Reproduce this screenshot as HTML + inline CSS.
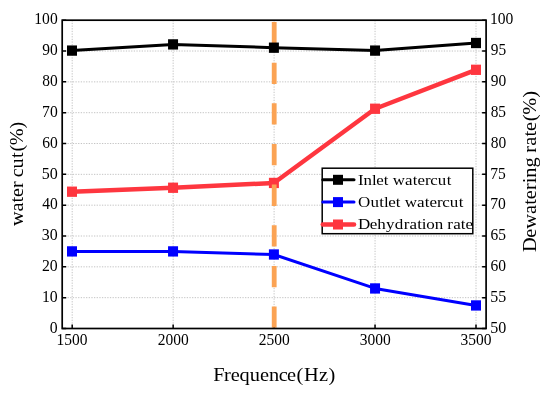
<!DOCTYPE html>
<html><head><meta charset="utf-8"><style>html,body{margin:0;padding:0;background:#fff;width:550px;height:393px;overflow:hidden}svg{display:block}</style></head>
<body><svg width="550" height="393" viewBox="0 0 550 393">
<rect width="550" height="393" fill="#fff"/>
<path d="M72.20 20.20V328.50M173.15 20.20V328.50M274.10 20.20V328.50M375.05 20.20V328.50M476.00 20.20V328.50M62.20 297.67H486.10M62.20 266.84H486.10M62.20 236.01H486.10M62.20 205.18H486.10M62.20 174.35H486.10M62.20 143.52H486.10M62.20 112.69H486.10M62.20 81.86H486.10M62.20 51.03H486.10" stroke="#c4c4c4" stroke-width="1" stroke-dasharray="1.3 1.35" fill="none"/>
<path d="M62.20 328.50h4M486.10 328.50h-4M62.20 297.67h4M486.10 297.67h-4M62.20 266.84h4M486.10 266.84h-4M62.20 236.01h4M486.10 236.01h-4M62.20 205.18h4M486.10 205.18h-4M62.20 174.35h4M486.10 174.35h-4M62.20 143.52h4M486.10 143.52h-4M62.20 112.69h4M486.10 112.69h-4M62.20 81.86h4M486.10 81.86h-4M62.20 51.03h4M486.10 51.03h-4M62.20 20.20h4M486.10 20.20h-4M72.20 328.50v-4M173.15 328.50v-4M274.10 328.50v-4M375.05 328.50v-4M476.00 328.50v-4" stroke="#000" stroke-width="1.5" fill="none"/>
<polyline points="72.00,191.70 173.05,187.75 273.90,182.95 375.05,108.75 476.00,69.80" stroke="#fe363f" stroke-width="4.5" fill="none" stroke-linejoin="round"/>
<rect x="67.00" y="186.55" width="10" height="10.3" fill="#fe363f"/>
<rect x="168.05" y="182.60" width="10" height="10.3" fill="#fe363f"/>
<rect x="268.90" y="177.80" width="10" height="10.3" fill="#fe363f"/>
<rect x="370.05" y="103.60" width="10" height="10.3" fill="#fe363f"/>
<rect x="471.00" y="64.65" width="10" height="10.3" fill="#fe363f"/>
<line x1="274.2" y1="22.0" x2="274.2" y2="328.50" stroke="#fba354" stroke-width="4.8" stroke-dasharray="21.3 19.35"/>
<polyline points="72.00,251.40 173.05,251.40 273.90,254.50 375.05,288.45 476.00,305.45" stroke="#0000ff" stroke-width="3" fill="none" stroke-linejoin="round"/>
<rect x="67.00" y="246.25" width="10" height="10.3" fill="#0000ff"/>
<rect x="168.05" y="246.25" width="10" height="10.3" fill="#0000ff"/>
<rect x="268.90" y="249.35" width="10" height="10.3" fill="#0000ff"/>
<rect x="370.05" y="283.30" width="10" height="10.3" fill="#0000ff"/>
<rect x="471.00" y="300.30" width="10" height="10.3" fill="#0000ff"/>
<polyline points="72.00,50.60 173.05,44.40 273.90,47.70 375.05,50.60 476.00,43.00" stroke="#000" stroke-width="3" fill="none" stroke-linejoin="round"/>
<rect x="67.00" y="45.45" width="10" height="10.3" fill="#000"/>
<rect x="168.05" y="39.25" width="10" height="10.3" fill="#000"/>
<rect x="268.90" y="42.55" width="10" height="10.3" fill="#000"/>
<rect x="370.05" y="45.45" width="10" height="10.3" fill="#000"/>
<rect x="471.00" y="37.85" width="10" height="10.3" fill="#000"/>
<rect x="62.20" y="20.20" width="423.90" height="308.30" fill="none" stroke="#000" stroke-width="1.7"/>
<text x="53.79" y="332.80" text-anchor="middle" textLength="7.87" lengthAdjust="spacingAndGlyphs" style="font-family:'Liberation Serif',serif;font-size:16px">0</text>
<text x="49.83" y="301.97" text-anchor="middle" textLength="15.81" lengthAdjust="spacingAndGlyphs" style="font-family:'Liberation Serif',serif;font-size:16px">10</text>
<text x="49.84" y="271.14" text-anchor="middle" textLength="15.78" lengthAdjust="spacingAndGlyphs" style="font-family:'Liberation Serif',serif;font-size:16px">20</text>
<text x="49.80" y="240.31" text-anchor="middle" textLength="15.87" lengthAdjust="spacingAndGlyphs" style="font-family:'Liberation Serif',serif;font-size:16px">30</text>
<text x="49.96" y="209.48" text-anchor="middle" textLength="15.52" lengthAdjust="spacingAndGlyphs" style="font-family:'Liberation Serif',serif;font-size:16px">40</text>
<text x="49.72" y="178.65" text-anchor="middle" textLength="16.04" lengthAdjust="spacingAndGlyphs" style="font-family:'Liberation Serif',serif;font-size:16px">50</text>
<text x="49.96" y="147.82" text-anchor="middle" textLength="15.53" lengthAdjust="spacingAndGlyphs" style="font-family:'Liberation Serif',serif;font-size:16px">60</text>
<text x="49.91" y="116.99" text-anchor="middle" textLength="15.62" lengthAdjust="spacingAndGlyphs" style="font-family:'Liberation Serif',serif;font-size:16px">70</text>
<text x="49.99" y="86.16" text-anchor="middle" textLength="15.45" lengthAdjust="spacingAndGlyphs" style="font-family:'Liberation Serif',serif;font-size:16px">80</text>
<text x="50.00" y="55.33" text-anchor="middle" textLength="15.45" lengthAdjust="spacingAndGlyphs" style="font-family:'Liberation Serif',serif;font-size:16px">90</text>
<text x="46.03" y="23.70" text-anchor="middle" textLength="23.38" lengthAdjust="spacingAndGlyphs" style="font-family:'Liberation Serif',serif;font-size:16px">100</text>
<text x="498.36" y="332.80" text-anchor="middle" textLength="16.04" lengthAdjust="spacingAndGlyphs" style="font-family:'Liberation Serif',serif;font-size:16px">50</text>
<text x="498.32" y="301.97" text-anchor="middle" textLength="15.96" lengthAdjust="spacingAndGlyphs" style="font-family:'Liberation Serif',serif;font-size:16px">55</text>
<text x="498.37" y="271.14" text-anchor="middle" textLength="15.53" lengthAdjust="spacingAndGlyphs" style="font-family:'Liberation Serif',serif;font-size:16px">60</text>
<text x="498.33" y="240.31" text-anchor="middle" textLength="15.45" lengthAdjust="spacingAndGlyphs" style="font-family:'Liberation Serif',serif;font-size:16px">65</text>
<text x="498.10" y="209.48" text-anchor="middle" textLength="15.62" lengthAdjust="spacingAndGlyphs" style="font-family:'Liberation Serif',serif;font-size:16px">70</text>
<text x="498.06" y="178.65" text-anchor="middle" textLength="15.54" lengthAdjust="spacingAndGlyphs" style="font-family:'Liberation Serif',serif;font-size:16px">75</text>
<text x="498.41" y="147.82" text-anchor="middle" textLength="15.45" lengthAdjust="spacingAndGlyphs" style="font-family:'Liberation Serif',serif;font-size:16px">80</text>
<text x="498.37" y="116.99" text-anchor="middle" textLength="15.37" lengthAdjust="spacingAndGlyphs" style="font-family:'Liberation Serif',serif;font-size:16px">85</text>
<text x="498.56" y="86.16" text-anchor="middle" textLength="15.45" lengthAdjust="spacingAndGlyphs" style="font-family:'Liberation Serif',serif;font-size:16px">90</text>
<text x="498.52" y="55.33" text-anchor="middle" textLength="15.36" lengthAdjust="spacingAndGlyphs" style="font-family:'Liberation Serif',serif;font-size:16px">95</text>
<text x="501.59" y="23.70" text-anchor="middle" textLength="23.38" lengthAdjust="spacingAndGlyphs" style="font-family:'Liberation Serif',serif;font-size:16px">100</text>
<text x="72.01" y="344.50" text-anchor="middle" textLength="30.97" lengthAdjust="spacingAndGlyphs" style="font-family:'Liberation Serif',serif;font-size:16px">1500</text>
<text x="173.31" y="344.50" text-anchor="middle" textLength="30.96" lengthAdjust="spacingAndGlyphs" style="font-family:'Liberation Serif',serif;font-size:16px">2000</text>
<text x="274.26" y="344.50" text-anchor="middle" textLength="30.96" lengthAdjust="spacingAndGlyphs" style="font-family:'Liberation Serif',serif;font-size:16px">2500</text>
<text x="375.17" y="344.50" text-anchor="middle" textLength="31.04" lengthAdjust="spacingAndGlyphs" style="font-family:'Liberation Serif',serif;font-size:16px">3000</text>
<text x="476.12" y="344.50" text-anchor="middle" textLength="31.04" lengthAdjust="spacingAndGlyphs" style="font-family:'Liberation Serif',serif;font-size:16px">3500</text>
<text transform="scale(1.1018,1)" x="193.46 203.26 209.34 217.27 226.72 236.04 244.15 253.01 260.52 269.15 276.02 289.43 298.23" y="380.80" style="font-family:'Liberation Serif',serif;font-size:18.5px">Frequence(Hz)</text>
<text transform="translate(23,226.1) rotate(-90) scale(1.0939,1)" x="0.02 13.43 21.68 26.69 34.81 40.82 44.67 52.66 62.26 68.11 74.02 89.17" y="0.00" style="font-family:'Liberation Serif',serif;font-size:18.5px">water cut(%)</text>
<text transform="translate(536,251.3) rotate(-90) scale(1.1023,1)" x="-0.65 12.21 20.41 33.94 42.26 47.33 55.53 61.64 66.72 76.07 85.00 89.52 95.85 104.16 109.24 117.94 123.96 139.22" y="0.00" style="font-family:'Liberation Serif',serif;font-size:18.5px">Dewatering rate(%)</text>
<rect x="322.2" y="168.2" width="150.6" height="65.5" fill="#fff" stroke="#000" stroke-width="1.5"/>
<line x1="322.8" y1="179.8" x2="354" y2="179.8" stroke="#000" stroke-width="3" stroke-linecap="round"/>
<rect x="333" y="174.80" width="10" height="10" fill="#000"/>
<text transform="scale(1.1040,1)" x="324.22 329.24 336.91 340.92 347.70 351.86 355.67 366.93 373.86 378.10 384.93 389.83 396.57 404.63" y="184.80" style="font-family:'Liberation Serif',serif;font-size:15.3px">Inlet watercut</text>
<line x1="322.8" y1="202.1" x2="354" y2="202.1" stroke="#0000ff" stroke-width="3" stroke-linecap="round"/>
<rect x="333" y="197.10" width="10" height="10" fill="#0000ff"/>
<text transform="scale(1.1121,1)" x="321.91 333.05 341.06 345.26 349.22 355.97 360.09 363.85 375.05 381.93 386.14 392.93 397.78 404.47 412.48" y="207.10" style="font-family:'Liberation Serif',serif;font-size:15.3px">Outlet watercut</text>
<line x1="322.8" y1="224.5" x2="354" y2="224.5" stroke="#fe363f" stroke-width="4.6" stroke-linecap="round"/>
<rect x="333" y="219.50" width="10" height="10" fill="#fe363f"/>
<text transform="scale(1.1114,1)" x="322.03 332.68 339.47 347.21 355.15 363.27 368.51 375.40 379.57 383.54 391.21 398.78 402.53 407.77 414.66 418.87" y="229.50" style="font-family:'Liberation Serif',serif;font-size:15.3px">Dehydration rate</text>
</svg></body></html>
